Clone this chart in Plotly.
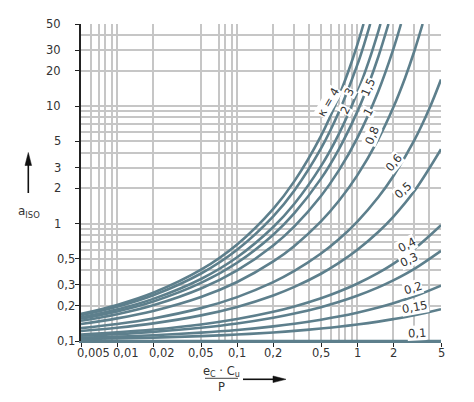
import math
import plotly.graph_objects as go

# ---------------- data ----------------
KAPPA_LABELS = ["0,1", "0,15", "0,2", "0,3", "0,4", "0,5", "0,6", "0,8", "1", "1,5", "2", "3", "κ = 4"]

X_K010 = [0.005, 0.05, 0.5, 5]
A_K010 = [0.1, 0.1, 0.1, 0.1]

X_K015 = [0.005, 0.01, 0.02, 0.05, 0.1, 0.2, 0.3, 0.5, 0.7, 1, 1.5, 2, 3, 5]
A_K015 = [0.1039, 0.1052, 0.1069, 0.1101, 0.1136, 0.1183, 0.1219, 0.1276, 0.1322, 0.1381, 0.1463, 0.1535, 0.1658, 0.1867]

X_K020 = [0.005, 0.01, 0.02, 0.05, 0.1, 0.2, 0.3, 0.5, 0.7, 1, 1.5, 2, 3, 5]
A_K020 = [0.1067, 0.1090, 0.1120, 0.1178, 0.1242, 0.1333, 0.1403, 0.1518, 0.1614, 0.1742, 0.1927, 0.2095, 0.2401, 0.2964]

X_K030 = [0.005, 0.01, 0.02, 0.05, 0.1, 0.2, 0.3, 0.5, 0.7, 1, 1.5, 2, 3, 5]
A_K030 = [0.1107, 0.1144, 0.1195, 0.1295, 0.1408, 0.1576, 0.1711, 0.1941, 0.2144, 0.2425, 0.2860, 0.3279, 0.4111, 0.5852]

X_K040 = [0.005, 0.01, 0.02, 0.05, 0.1, 0.2, 0.3, 0.5, 0.7, 1, 1.5, 2, 3, 5]
A_K040 = [0.1136, 0.1184, 0.1251, 0.1384, 0.1539, 0.1773, 0.1969, 0.2313, 0.2627, 0.3075, 0.3804, 0.4541, 0.6095, 0.9697]

X_K050 = [0.005, 0.01, 0.02, 0.05, 0.1, 0.2, 0.3, 0.5, 0.7, 1, 1.5, 2, 3, 5]
A_K050 = [0.1217, 0.1298, 0.1412, 0.1653, 0.1952, 0.2443, 0.2887, 0.3737, 0.4595, 0.5947, 0.8466, 1.1406, 1.8888, 4.2915]

X_K060 = [0.005, 0.01, 0.02, 0.05, 0.1, 0.2, 0.3, 0.5, 0.7, 1, 1.5, 2, 3, 4, 5]
A_K060 = [0.1286, 0.1395, 0.1556, 0.1905, 0.2364, 0.3169, 0.3945, 0.5552, 0.7314, 1.035, 1.674, 2.526, 5.127, 9.530, 16.82]

X_K080 = [0.005, 0.01, 0.02, 0.05, 0.1, 0.2, 0.3, 0.5, 0.7, 1, 1.5, 2, 2.5, 3, 3.515]
A_K080 = [0.1397, 0.1558, 0.1804, 0.2371, 0.3181, 0.4759, 0.6453, 1.044, 1.547, 2.558, 5.209, 9.714, 17.20, 29.44, 50]

X_K100 = [0.005, 0.01, 0.02, 0.05, 0.1, 0.2, 0.3, 0.5, 0.7, 1, 1.5, 2, 2.32]
A_K100 = [0.1486, 0.1692, 0.2015, 0.2797, 0.3987, 0.6505, 0.9448, 1.714, 2.806, 5.311, 13.32, 30.36, 50]

X_K150 = [0.005, 0.01, 0.02, 0.05, 0.1, 0.2, 0.3, 0.5, 0.7, 1, 1.25, 1.5, 1.825]
A_K150 = [0.1547, 0.1787, 0.2169, 0.3123, 0.4640, 0.8040, 1.226, 2.413, 4.247, 8.890, 15.51, 26.18, 50]

X_K200 = [0.005, 0.01, 0.02, 0.05, 0.1, 0.2, 0.3, 0.5, 0.7, 1, 1.25, 1.5, 1.565]
A_K200 = [0.1592, 0.1856, 0.2283, 0.3374, 0.5161, 0.9337, 1.474, 3.081, 5.722, 12.93, 24.00, 43.09, 50]

X_K300 = [0.005, 0.01, 0.02, 0.05, 0.1, 0.2, 0.3, 0.5, 0.7, 1, 1.15, 1.285]
A_K300 = [0.1656, 0.1957, 0.2451, 0.3755, 0.5987, 1.151, 1.911, 4.359, 8.766, 22.20, 34.22, 50]

X_K400 = [0.005, 0.01, 0.02, 0.05, 0.1, 0.2, 0.3, 0.5, 0.7, 0.85, 1, 1.131]
A_K400 = [0.1701, 0.2030, 0.2575, 0.4047, 0.6644, 1.335, 2.298, 5.587, 11.92, 20.07, 32.92, 50]

X_TICKS = [0.005, 0.01, 0.02, 0.05, 0.1, 0.2, 0.5, 1, 2, 5]
X_TICK_TEXT = ["0,005", "0,01", "0,02", "0,05", "0,1", "0,2", "0,5", "1", "2", "5"]
X_GRID = [0.006, 0.007, 0.008, 0.009, 0.01, 0.02, 0.05, 0.07, 0.08, 0.09, 0.1,
          0.2, 0.3, 0.4, 0.5, 0.6, 0.7, 0.8, 0.9, 1, 2, 3, 4, 5]

Y_TICKS = [0.1, 0.2, 0.3, 0.5, 1, 2, 3, 5, 10, 20, 30, 50]
Y_TICK_TEXT = ["0,1", "0,2", "0,3", "0,5", "1", "2", "3", "5", "10", "20", "30", "50"]
Y_GRID = [0.2, 0.3, 0.4, 0.5, 0.6, 0.7, 0.8, 0.9, 1, 2, 3, 4, 5, 6, 7, 8, 9, 10, 20, 30, 40, 50]

CURVES = [(X_K010, A_K010), (X_K015, A_K015), (X_K020, A_K020), (X_K030, A_K030),
          (X_K040, A_K040), (X_K050, A_K050), (X_K060, A_K060), (X_K080, A_K080),
          (X_K100, A_K100), (X_K150, A_K150), (X_K200, A_K200), (X_K300, A_K300),
          (X_K400, A_K400)]

# ---------------- styling / placement ----------------
LABEL_AT = [(3.18, 0.1164), (3.06, 0.194), (2.94, 0.281), (2.68, 0.488), (2.58, 0.653),
            (2.43, 1.92), (2.01, 3.26), (1.34, 5.64), (1.24, 8.85), (1.24, 14.5),
            (0.80, 9.2), (0.863, 13.1), (0.577, 10.8)]
LABEL_ANGLE = [-3, -10, -17, -25, -28, -42, -50, -68, -62, -65, -62, -62, -60]
X_TICK_SHIFT = [12, 9, 9, 0, 0, 0, 0, 0, 0, 0]

CURVE_COLOR = "#5d7f8c"
GRID_COLOR = "#c6c6c6"
TEXT_COLOR = "#333333"
ARROW_COLOR = "#111111"
FONT = "DejaVu Sans"

W, H = 474, 402
ML, MR, MT, MB = 81, 33, 24, 61
PW, PH = W - ML - MR, H - MT - MB


def px(x):
    return (x - ML) / PW


def py(y):
    return (H - MB - y) / PH


fig = go.Figure()
for xs, ys in CURVES:
    fig.add_trace(go.Scatter(x=xs, y=ys, mode="lines",
                             line=dict(color=CURVE_COLOR, width=2.6, shape="spline", smoothing=1.0),
                             showlegend=False, hoverinfo="skip"))

annotations = []
for (lx, ly), txt, ang in zip(LABEL_AT, KAPPA_LABELS, LABEL_ANGLE):
    annotations.append(dict(x=math.log10(lx), y=math.log10(ly), xref="x", yref="y",
                            text=txt, textangle=ang, showarrow=False,
                            font=dict(family=FONT, size=11.5, color=TEXT_COLOR),
                            bgcolor="white", borderpad=0))

for v, t, s in zip(X_TICKS, X_TICK_TEXT, X_TICK_SHIFT):
    annotations.append(dict(x=math.log10(v), y=0, xref="x", yref="paper", text=t,
                            showarrow=False, xanchor="center", yanchor="middle",
                            xshift=s, yshift=-11.5,
                            font=dict(family=FONT, size=11.5, color=TEXT_COLOR)))

for v, t in zip(Y_TICKS, Y_TICK_TEXT):
    if "," in t:
        anchor, shift = "left", -26
    else:
        anchor, shift = "right", -18
    annotations.append(dict(x=0, y=math.log10(v), xref="paper", yref="y", text=t,
                            showarrow=False, xanchor=anchor, yanchor="middle", xshift=shift,
                            font=dict(family=FONT, size=11.5, color=TEXT_COLOR)))

# axis titles
annotations.append(dict(x=px(29), y=py(212), xref="paper", yref="paper",
                        text="a<sub>ISO</sub>", showarrow=False, xanchor="center", yanchor="middle",
                        font=dict(family=FONT, size=12, color=TEXT_COLOR)))
annotations.append(dict(x=px(221.5), y=py(371), xref="paper", yref="paper",
                        text="e<sub>C</sub> · C<sub>u</sub>", showarrow=False,
                        xanchor="center", yanchor="middle",
                        font=dict(family=FONT, size=11.5, color=TEXT_COLOR)))
annotations.append(dict(x=px(221.5), y=py(386.5), xref="paper", yref="paper",
                        text="P", showarrow=False, xanchor="center", yanchor="middle",
                        font=dict(family=FONT, size=11.5, color=TEXT_COLOR)))


def ppath(points):
    return "M " + " L ".join(f"{px(a):.5f},{py(b):.5f}" for a, b in points) + " Z"


shapes = [
    # fraction bar
    dict(type="line", xref="paper", yref="paper", x0=px(205), x1=px(238),
         y0=py(378.3), y1=py(378.3), line=dict(color="#444444", width=1)),
    # vertical arrow (y title)
    dict(type="line", xref="paper", yref="paper", x0=px(28.3), x1=px(28.3),
         y0=py(193), y1=py(163), line=dict(color=ARROW_COLOR, width=1.6)),
    dict(type="path", xref="paper", yref="paper",
         path=ppath([(28.3, 152.5), (25.0, 165.5), (31.6, 165.5)]),
         fillcolor=ARROW_COLOR, line=dict(color=ARROW_COLOR, width=0.5)),
    # horizontal arrow (x title)
    dict(type="line", xref="paper", yref="paper", x0=px(243), x1=px(275),
         y0=py(379.3), y1=py(379.3), line=dict(color=ARROW_COLOR, width=1.6)),
    dict(type="path", xref="paper", yref="paper",
         path=ppath([(286, 379.3), (273, 376.0), (273, 382.6)]),
         fillcolor=ARROW_COLOR, line=dict(color=ARROW_COLOR, width=0.5)),
]

fig.update_layout(
    width=W, height=H,
    margin=dict(l=ML, r=MR, t=MT, b=MB, pad=0),
    paper_bgcolor="white", plot_bgcolor="white",
    annotations=annotations, shapes=shapes,
    showlegend=False,
)

fig.update_xaxes(type="log", range=[math.log10(0.005), math.log10(5)],
                 tickvals=X_TICKS, showticklabels=False,
                 ticks="outside", ticklen=4, tickwidth=1.2, tickcolor="#222222",
                 showgrid=True, gridcolor=GRID_COLOR, gridwidth=1.5,
                 minor=dict(tickvals=X_GRID, showgrid=True, gridcolor=GRID_COLOR,
                            gridwidth=1.5, ticks=""),
                 showline=True, linecolor=CURVE_COLOR, linewidth=2,
                 zeroline=False, fixedrange=True)
fig.update_yaxes(type="log", range=[-1, math.log10(50)],
                 tickvals=Y_TICKS, showticklabels=False,
                 ticks="outside", ticklen=4, tickwidth=1.2, tickcolor="#222222",
                 showgrid=True, gridcolor=GRID_COLOR, gridwidth=1.5,
                 minor=dict(tickvals=Y_GRID, showgrid=True, gridcolor=GRID_COLOR,
                            gridwidth=1.5, ticks=""),
                 showline=True, linecolor="#222222", linewidth=1.6,
                 zeroline=False, fixedrange=True)

fig.write_html("out.html")
